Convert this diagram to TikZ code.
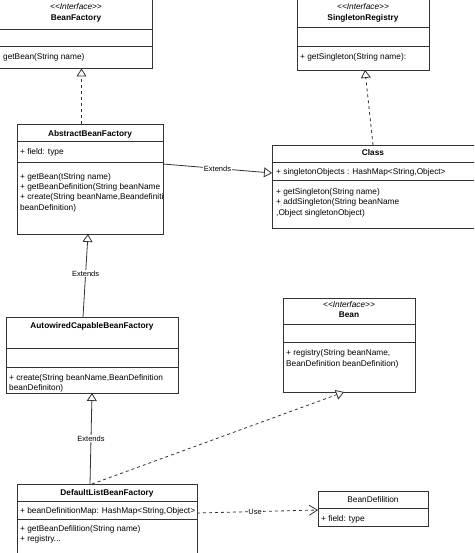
\documentclass[tikz,border=0pt]{standalone}
\usepackage{fontspec}
\setmainfont{Liberation Sans}
\usetikzlibrary{arrows.meta}
\newcommand{\fsz}{\fontsize{8.3}{10}\selectfont}
\newcommand{\fsl}{\fontsize{7.5}{9}\selectfont}
\newcommand{\ifcname}{<\kern0pt<Interface>\kern0pt>}
\definecolor{ln}{HTML}{333333}
\tikzset{
  box/.style={draw=ln, line width=0.8pt, anchor=north west, inner sep=0pt, outer sep=0pt},
  sep/.style={draw=ln, line width=0.6pt},
  txt/.style={anchor=base west, inner sep=0pt, font=\fsz},
  ttl/.style={anchor=base, inner sep=0pt, font=\fsz\bfseries},
  ifc/.style={anchor=base, inner sep=0pt, font=\fsz\itshape},
  plain/.style={anchor=base, inner sep=0pt, font=\fsz},
  lbl/.style={fill=white, inner sep=0.8pt, font=\fsl},
  conn/.style={draw=ln, line width=0.8pt},
  realize/.style={conn, dashed, dash pattern=on 3pt off 3pt, -{Triangle[length=8pt,width=10pt,fill=white]}},
  inherit/.style={conn, -{Triangle[length=8pt,width=10pt,fill=white]}},
  usedep/.style={conn, dash pattern=on 3pt off 3pt, -{Straight Barb[length=8pt,width=10pt]}}
}
\begin{document}
\begin{tikzpicture}[x=1pt,y=-1pt]
\clip (0,0) rectangle (474,553);
\fill[white] (0,0) rectangle (474,553);

% ---------- BeanFactory ----------
\node[box, minimum width=153pt, minimum height=73.5pt] (bf) at (-1,-5) {};
\draw[sep] (-1,29) -- (152,29) (-1,46) -- (152,46);
\node[ifc] (bfi) at (76,10) {\ifcname};
\node[ttl] (bft) at (76,20.5) {BeanFactory};
\node[txt] (bfm) at (3,60) {getBean(String name)};

% ---------- SingletonRegistry ----------
\node[box, minimum width=132pt, minimum height=75pt] (sr) at (297,-5) {};
\draw[sep] (297,27.5) -- (429,27.5) (297,46) -- (429,46);
\node[ifc] (sri) at (363,10) {\ifcname};
\node[ttl] (srt) at (363,21) {SingletonRegistry};
\node[txt] (srm) at (300,60) {+ getSingleton(String name):};

% ---------- AbstractBeanFactory ----------
\node[box, minimum width=146pt, minimum height=110pt] (abf) at (17,124) {};
\draw[sep] (17,141) -- (163,141) (17,162) -- (163,162);
\node[ttl] (abft) at (90,137) {AbstractBeanFactory};
\begin{scope}
\clip (17,124) rectangle (162.5,234);
\node[txt] (abfa) at (20,155) {+ field: type};
\node[txt] (abfm1) at (20,179) {+ getBean(tString name)};
\node[txt] (abfm2) at (20,189.5) {+ getBeanDefinition(String beanName};
\node[txt] (abfm3) at (20,200) {+ create(String beanName,Beandefinition};
\node[txt] (abfm4) at (20,210.5) {beanDefinition)};
\end{scope}

% ---------- Class ----------
\node[box, minimum width=203pt, minimum height=83pt] (cls) at (272,145) {};
\draw[sep] (272,162) -- (475,162) (272,180) -- (475,180);
\node[ttl] (clst) at (373,156) {Class};
\node[txt] (clsa) at (276,175) {+ singletonObjects : HashMap<String,Object>};
\node[txt] (clsm1) at (276,194) {+ getSingleton(String name)};
\node[txt] (clsm2) at (276,204.5) {+ addSingleton(String beanName};
\node[txt] (clsm3) at (276,215) {,Object singletonObject)};

% ---------- AutowiredCapableBeanFactory ----------
\node[box, minimum width=172pt, minimum height=76pt] (acf) at (6,317) {};
\draw[sep] (6,348) -- (178,348) (6,367) -- (178,367);
\node[ttl] (acft) at (92,328) {AutowiredCapableBeanFactory};
\node[txt] (acfm1) at (9,380) {+ create(String beanName,BeanDefinition};
\node[txt] (acfm2) at (9,390.5) {beanDefiniton)};

% ---------- Bean ----------
\node[box, minimum width=132pt, minimum height=94pt] (bean) at (283,298) {};
\draw[sep] (283,324) -- (415,324) (283,342) -- (415,342);
\node[ifc] (beani) at (349,307) {\ifcname};
\node[ttl] (beant) at (349,317.5) {Bean};
\node[txt] (beanm1) at (286,355) {+ registry(String beanName,};
\node[txt] (beanm2) at (286,366) {BeanDefinition beanDefinition)};

% ---------- DefaultListBeanFactory ----------
\node[box, minimum width=180pt, minimum height=80pt] (dlf) at (17,484) {};
\draw[sep] (17,501) -- (197,501) (17,519) -- (197,519);
\node[ttl] (dlft) at (107,495) {DefaultListBeanFactory};
\node[txt] (dlfa) at (20,513) {+ beanDefinitionMap: HashMap<String,Object>};
\node[txt] (dlfm1) at (20,531) {+ getBeanDefilition(String name)};
\node[txt] (dlfm2) at (20,541.5) {+ registry...};

% ---------- BeanDefilition ----------
\node[box, minimum width=110pt, minimum height=35pt] (bd) at (318,491) {};
\draw[sep] (318,508) -- (428,508);
\node[plain] (bdt) at (373,502) {BeanDefilition};
\node[txt] (bda) at (321,521) {+ field: type};

% ---------- connection points ----------
\coordinate (abf-up) at (81.5,124);
\coordinate (bf-dn) at (81.5,68.5);
\coordinate (cls-up) at (373,145);
\coordinate (sr-dn) at (365,70);
\coordinate (abf-rt) at (163,164);
\coordinate (cls-lt) at (272,173);
\coordinate (acf-up) at (83,317);
\coordinate (abf-dn) at (88,234);
\coordinate (dlf-up) at (90,484);
\coordinate (dlf-up2) at (92,484);
\coordinate (acf-dn) at (92,393);
\coordinate (bean-dn) at (344,392);
\coordinate (dlf-rt) at (197,513);
\coordinate (bd-lt) at (318,510);

% ---------- connectors ----------
\draw[realize] (abf-up) -- (bf-dn);
\draw[realize] (cls-up) -- (sr-dn);
\draw[inherit] (abf-rt) -- node[lbl, pos=0.5] (ext1) {Extends} (cls-lt);
\draw[inherit] (acf-up) -- node[lbl, pos=0.52] (ext2) {Extends} (abf-dn);
\draw[inherit] (dlf-up) -- node[lbl, pos=0.5] (ext3) {Extends} (acf-dn);
\draw[realize] (dlf-up2) -- (bean-dn);
\draw[usedep] (dlf-rt) -- node[lbl, pos=0.48] (use) {Use} (bd-lt);
\end{tikzpicture}
\end{document}
